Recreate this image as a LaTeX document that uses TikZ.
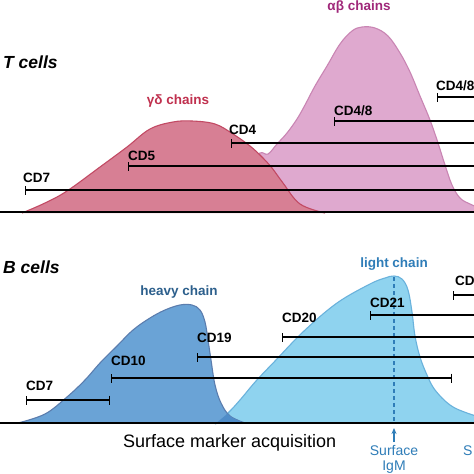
\documentclass[tikz,border=0pt]{standalone}
\usepackage{fontspec}
\setmainfont{Liberation Sans}
\usetikzlibrary{arrows.meta}
\definecolor{gdfill}{HTML}{D77F94}
\definecolor{gdline}{HTML}{C24A64}
\definecolor{abfill}{HTML}{DFA9CF}
\definecolor{abline}{HTML}{C985B3}
\definecolor{gdtext}{HTML}{C0304E}
\definecolor{abtext}{HTML}{A0287A}
\definecolor{hvfill}{HTML}{6AA3D6}
\definecolor{hvline}{HTML}{5B7DAE}
\definecolor{ltfill}{HTML}{8FD3EF}
\definecolor{ltline}{HTML}{6AB2DC}
\definecolor{ovfill}{HTML}{4F8CC8}
\definecolor{hvtext}{HTML}{2C5F8C}
\definecolor{lttext}{HTML}{2F7DB8}
\begin{document}
\begin{tikzpicture}[x=1pt,y=-1pt,
  cdlabel/.style={anchor=base west, inner sep=0pt, font=\fontsize{13.5}{16}\selectfont\bfseries},
  chainlabel/.style={anchor=base, inner sep=0pt, font=\fontsize{13.5}{16}\selectfont\bfseries},
  panel/.style={anchor=base west, inner sep=0pt, font=\fontsize{17.5}{20}\selectfont\bfseries\itshape},
  markline/.style={line width=1.5pt, {Bar[width=9pt,line width=1.2pt]}-},
  markline2/.style={line width=1.5pt, {Bar[width=9pt,line width=1.2pt]}-{Bar[width=9pt,line width=1.2pt]}},
  axis/.style={line width=2.6pt},
  curve/.style={smooth, tension=0.6},
  smalltext/.style={anchor=base, inner sep=0pt, font=\fontsize{14}{16}\selectfont, text=lttext}
]
\useasboundingbox (0,0) rectangle (474,474);
\clip (0,0) rectangle (474,474);
\fill[white] (0,0) rectangle (474,474);

% ---------------- T cells ----------------
\node[panel] (tcells) at (3,68) {T cells};
% alpha-beta chains
\path[fill=abfill, draw=abline, line width=1.1pt] plot[curve] coordinates {
 (200,212) (230,188) (250,165) (260,153) (268,154) (277,144) (287,133) (297,119)
 (305,105) (315,86) (327,66) (340,44) (352,31) (362,27) (375,28) (388,36) (400,53)
 (410,72) (420,96) (430,120) (438,143) (445,165) (452,185) (460,198) (470,204) (485,210) (495,212)};
% gamma-delta chains
\path[fill=gdfill, draw=gdline, line width=1.1pt] plot[curve] coordinates {
 (22,213) (45,203) (67,191) (100,167) (127,147) (150,129) (173,122) (192,121) (215,124)
 (233,134) (250,146) (262,157) (272,168) (283,183) (300,204) (325,213)};
\node[chainlabel, text=gdtext] (gdlab) at (178,104) {γδ chains};
\node[chainlabel, text=abtext] (ablab) at (359,10) {αβ chains};

\coordinate (t7s) at (25,190);  \coordinate (t7e) at (480,190);
\coordinate (t5s) at (128,166); \coordinate (t5e) at (480,166);
\coordinate (t4s) at (231,143); \coordinate (t4e) at (480,143);
\coordinate (t48s) at (334,121); \coordinate (t48e) at (480,121);
\coordinate (t48bs) at (437,97); \coordinate (t48be) at (480,97);
\draw[markline] (t7s) -- (t7e);
\draw[markline] (t5s) -- (t5e);
\draw[markline] (t4s) -- (t4e);
\draw[markline] (t48s) -- (t48e);
\draw[markline] (t48bs) -- (t48be);
\node[cdlabel] (lt7) at (23,182) {CD7};
\node[cdlabel] (lt5) at (128,160) {CD5};
\node[cdlabel] (lt4) at (229,134) {CD4};
\node[cdlabel] (lt48) at (334,115) {CD4/8};
\node[cdlabel] (lt48b) at (436,90) {CD4/8};

\coordinate (taxl) at (-5,212); \coordinate (taxr) at (480,212);
\draw[axis] (taxl) -- (taxr);

% ---------------- B cells ----------------
\node[panel] (bcells) at (3,273) {B cells};
% light chain
\path[fill=ltfill, draw=ltline, line width=1.1pt] plot[curve] coordinates {
 (215,424) (228,413) (240,400) (256,381) (275,361) (304,331) (337,303) (370,284)
 (385,278) (394,276) (402,279) (408,290) (412,312) (415,336) (420,357) (427,375)
 (435,390) (450,405) (467,413) (490,420) (500,423)};
% heavy chain
\path[fill=hvfill, draw=hvline, line width=1.1pt] plot[curve] coordinates {
 (18,423) (45,414) (67,397) (85,380) (100,363) (117,346) (133,330) (150,318)
 (165,310) (180,305) (192,305) (200,310) (205,322) (208,340) (211,360) (215,385)
 (221,403) (230,416) (245,423)};
% overlap of the two
\begin{scope}
\clip plot[curve] coordinates {
 (18,423) (45,414) (67,397) (85,380) (100,363) (117,346) (133,330) (150,318)
 (165,310) (180,305) (192,305) (200,310) (205,322) (208,340) (211,360) (215,385)
 (221,403) (230,416) (245,423)};
\fill[ovfill] plot[curve] coordinates {
 (215,424) (228,413) (240,400) (256,381) (275,361) (304,331) (337,303) (370,284)
 (385,278) (394,276) (402,279) (408,290) (412,312) (415,336) (420,357) (427,375)
 (435,390) (450,405) (467,413) (490,420) (500,423)};
\end{scope}
\node[chainlabel, text=hvtext] (hvlab) at (179,295) {heavy chain};
\node[chainlabel, text=lttext] (ltlab) at (394,267) {light chain};

% surface IgM marker
\coordinate (igtop) at (394,277); \coordinate (igbot) at (394,421);
\draw[lttext, line width=1.2pt, dash pattern=on 4pt off 3pt] (igtop) -- (igbot);

\coordinate (b7s) at (26,400);  \coordinate (b7e) at (110,400);
\coordinate (b10s) at (111,378); \coordinate (b10e) at (452,378);
\coordinate (b19s) at (197,357); \coordinate (b19e) at (480,357);
\coordinate (b20s) at (282,337); \coordinate (b20e) at (480,337);
\coordinate (b21s) at (370,315); \coordinate (b21e) at (480,315);
\coordinate (b2xs) at (453,295); \coordinate (b2xe) at (480,295);
\draw[markline2] (b7s) -- (b7e);
\draw[markline2] (b10s) -- (b10e);
\draw[markline] (b19s) -- (b19e);
\draw[markline] (b20s) -- (b20e);
\draw[markline] (b21s) -- (b21e);
\draw[markline] (b2xs) -- (b2xe);
\node[cdlabel] (lb7) at (26,390) {CD7};
\node[cdlabel] (lb10) at (111,365) {CD10};
\node[cdlabel] (lb19) at (197,342) {CD19};
\node[cdlabel] (lb20) at (282,322) {CD20};
\node[cdlabel] (lb21) at (370,307) {CD21};
\node[cdlabel] (lb2x) at (455,285) {CD};

\coordinate (baxl) at (-5,423); \coordinate (baxr) at (480,423);
\draw[axis] (baxl) -- (baxr);

\node[anchor=base west, inner sep=0pt, font=\fontsize{18}{20}\selectfont] (xlab) at (123,447) {Surface marker acquisition};

\node[smalltext] (igm1) at (394,455) {Surface};
\node[smalltext] (igm2) at (394,470) {IgM};
\coordinate (arrs) at (394,442); \coordinate (arre) at (394,428);
\draw[lttext, line width=1.2pt, -{Stealth[length=6pt,width=5pt]}] (arrs) -- (arre);
\node[smalltext, anchor=base west] (sig2) at (463,455) {S};
\end{tikzpicture}
\end{document}
